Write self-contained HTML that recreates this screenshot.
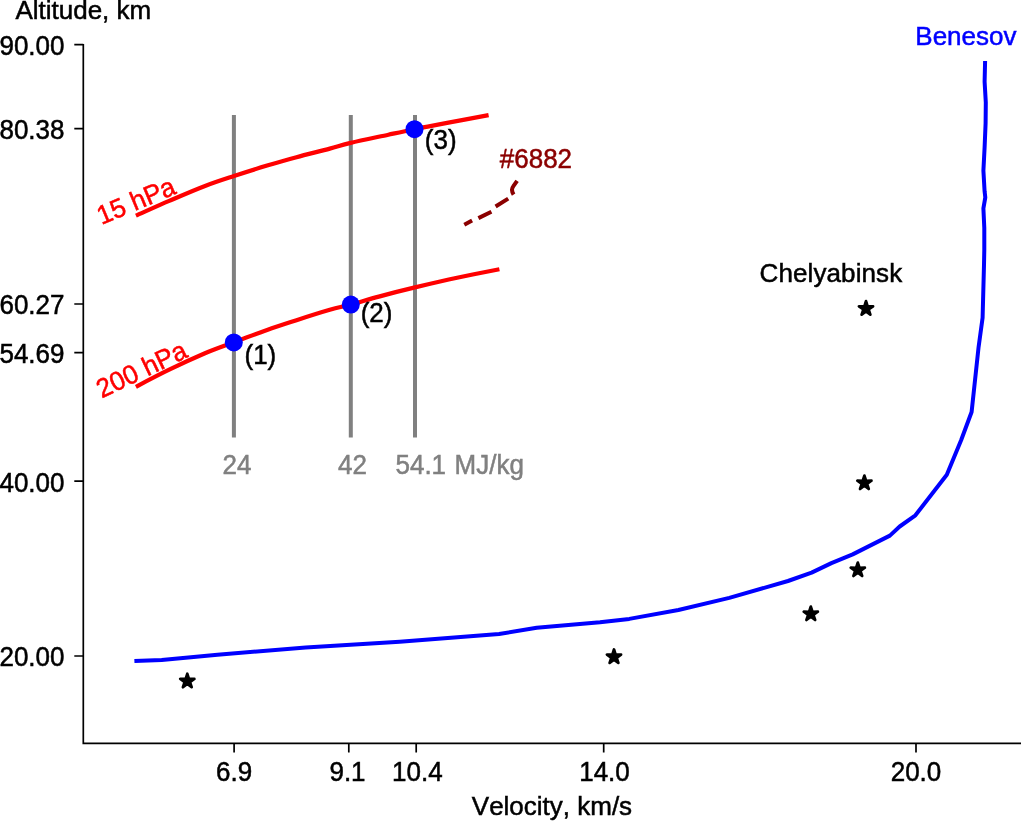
<!DOCTYPE html>
<html><head><meta charset="utf-8"><title>Altitude vs Velocity</title>
<style>
html,body{margin:0;padding:0;background:#fff;}
body{width:1021px;height:821px;overflow:hidden;}
svg{display:block;}
text{font-family:"Liberation Sans",Arial,Helvetica,sans-serif;font-size:26px;font-kerning:none;stroke-width:0.5px;}
</style></head><body>
<svg width="1021" height="821" viewBox="0 0 1021 821">
<rect width="1021" height="821" fill="#fff"/>
<!-- axes -->
<g stroke="#000" stroke-width="1.7" fill="none">
<path d="M83.3,44 V743.3 H1021"/>
<path d="M74.3,44.6 H83.3 M74.3,128.6 H83.3 M74.3,304 H83.3 M74.3,352.6 H83.3 M74.3,481.2 H83.3 M74.3,656 H83.3"/>
<path d="M234.1,743.3 V752.4 M348.8,743.3 V752.4 M416.2,743.3 V752.4 M603.7,743.3 V752.4 M916,743.3 V752.4"/>
</g>
<!-- gray lines -->
<g stroke="#808080" stroke-width="4" fill="none">
<path d="M233.9,115.1 V437.5 M350.8,115.1 V437.5 M415,115.1 V437.5"/>
</g>
<!-- red curves -->
<g stroke="#ff0000" stroke-width="4.2" fill="none">
<path d="M135.9,215.6 C141.4,213.2 157.8,205.8 169.2,200.9 C180.6,196.0 193.6,190.3 204.4,186.2 C215.2,182.0 223.6,179.4 234.0,176.0 C244.4,172.6 256.7,168.7 267.1,165.6 C277.5,162.5 286.1,160.0 296.5,157.2 C306.9,154.4 320.8,151.0 329.8,148.6 C338.8,146.2 340.9,145.2 350.7,142.9 C360.5,140.6 377.8,137.0 388.4,134.7 C399.0,132.4 404.4,131.2 414.2,129.2 C424.0,127.2 434.7,125.2 447.1,122.9 C459.5,120.6 481.7,116.4 488.6,115.1"/>
<path d="M135.9,386.8 C141.4,383.9 157.8,375.2 169.2,369.7 C180.6,364.1 193.6,358.1 204.4,353.5 C215.2,348.9 223.4,346.2 233.8,342.3 C244.2,338.4 256.7,333.7 267.1,330.0 C277.6,326.3 286.1,323.6 296.5,320.2 C306.9,316.8 320.8,312.4 329.8,309.8 C338.9,307.2 342.6,306.8 350.8,304.6 C359.0,302.4 368.1,299.5 378.8,296.6 C389.5,293.7 401.9,290.5 415.0,287.4 C428.1,284.3 443.0,280.8 457.1,277.8 C471.2,274.8 492.3,270.6 499.4,269.2"/>
</g>
<!-- dashed -->
<g stroke="#8b0000" stroke-width="4" fill="none" stroke-linejoin="round">
<path d="M464.3,224.8 L472.1,220.6 M478.4,218.1 L491.4,211.8 M495.6,206.5 L508.2,198.6 M513.6,194.6 Q510.6,189.6 513.2,186.4 L517.1,180.9"/>
</g>
<!-- blue curve -->
<path d="M985.1,61.0 L984.6,81.7 L985.8,102.4 L985.6,123.1 L984.6,147.4 L983.4,170.6 L984.6,191.3 L985.3,197.4 L983.4,208.3 L984.3,227.8 L984.3,249.8 L984.0,264.7 L982.6,317.7 L978.6,346.9 L971.6,412.0 L961.2,440.0 L946.8,474.7 L915.4,515.3 L899.7,526.5 L889.9,535.6 L852.7,554.4 L831.4,563.1 L811.6,572.6 L788.0,581.0 L729.3,597.9 L678.4,610.0 L629.3,618.9 L600.0,622.2 L536.7,627.7 L499.1,634.0 L399.7,641.7 L305.7,647.6 L217.5,654.7 L161.7,659.9 L134.4,661.1" stroke="#0000ff" stroke-width="4" fill="none" stroke-linejoin="round"/>
<!-- dots -->
<g fill="#0000ff">
<circle cx="233.8" cy="342.4" r="9"/>
<circle cx="350.8" cy="304.6" r="9"/>
<circle cx="414.5" cy="129.2" r="9"/>
</g>
<!-- stars -->
<g fill="#000" stroke="#000" stroke-width="2.8" stroke-linejoin="round">
<polygon points="866.00,301.20 867.62,306.38 873.04,306.31 868.62,309.45 870.35,314.59 866.00,311.35 861.65,314.59 863.38,309.45 858.96,306.31 864.38,306.38"/><polygon points="864.40,475.60 866.02,480.78 871.44,480.71 867.02,483.85 868.75,488.99 864.40,485.75 860.05,488.99 861.78,483.85 857.36,480.71 862.78,480.78"/><polygon points="857.80,562.60 859.42,567.78 864.84,567.71 860.42,570.85 862.15,575.99 857.80,572.75 853.45,575.99 855.18,570.85 850.76,567.71 856.18,567.78"/><polygon points="810.80,606.60 812.42,611.78 817.84,611.71 813.42,614.85 815.15,619.99 810.80,616.75 806.45,619.99 808.18,614.85 803.76,611.71 809.18,611.78"/><polygon points="614.00,649.50 615.62,654.68 621.04,654.61 616.62,657.75 618.35,662.89 614.00,659.65 609.65,662.89 611.38,657.75 606.96,654.61 612.38,654.68"/><polygon points="187.30,673.80 188.92,678.98 194.34,678.91 189.92,682.05 191.65,687.19 187.30,683.95 182.95,687.19 184.68,682.05 180.26,678.91 185.68,678.98"/>
</g>
<!-- text -->
<text transform="translate(15.4,18.9) scale(1,1.02)" fill="#000" stroke="#000">Altitude, km</text>
<text transform="translate(64.5,54.9) scale(1,1.03)" fill="#000" stroke="#000" text-anchor="end">90.00</text>
<text transform="translate(64.5,138.9) scale(1,1.03)" fill="#000" stroke="#000" text-anchor="end">80.38</text>
<text transform="translate(64.5,314.3) scale(1,1.03)" fill="#000" stroke="#000" text-anchor="end">60.27</text>
<text transform="translate(64.5,362.9) scale(1,1.03)" fill="#000" stroke="#000" text-anchor="end">54.69</text>
<text transform="translate(64.5,491.5) scale(1,1.03)" fill="#000" stroke="#000" text-anchor="end">40.00</text>
<text transform="translate(64.5,666.3) scale(1,1.03)" fill="#000" stroke="#000" text-anchor="end">20.00</text>
<text transform="translate(234.1,781.3) scale(1,1.03)" fill="#000" stroke="#000" text-anchor="middle">6.9</text>
<text transform="translate(347.5,781.3) scale(1,1.03)" fill="#000" stroke="#000" text-anchor="middle">9.1</text>
<text transform="translate(417.3,781.3) scale(1,1.03)" fill="#000" stroke="#000" text-anchor="middle">10.4</text>
<text transform="translate(604.5,781.3) scale(1,1.03)" fill="#000" stroke="#000" text-anchor="middle">14.0</text>
<text transform="translate(916,781.3) scale(1,1.03)" fill="#000" stroke="#000" text-anchor="middle">20.0</text>
<text transform="translate(471.8,815.2) scale(1,1.02)" fill="#000" stroke="#000">Velocity, km/s</text>
<text transform="translate(759.6,281.6) scale(1,1.02)" fill="#000" stroke="#000" letter-spacing="0.1">Chelyabinsk</text>
<text transform="translate(244.5,364.3) scale(1,1.03)" fill="#000" stroke="#000">(1)</text>
<text transform="translate(360.7,322.4) scale(1,1.03)" fill="#000" stroke="#000">(2)</text>
<text transform="translate(424.8,148.5) scale(1,1.03)" fill="#000" stroke="#000">(3)</text>
<text transform="translate(222.5,473.5) scale(1,1.03)" fill="#808080" stroke="#808080">24</text>
<text transform="translate(338,473.5) scale(1,1.03)" fill="#808080" stroke="#808080">42</text>
<text transform="translate(395.5,473.5) scale(1,1.03)" fill="#808080" stroke="#808080" word-spacing="1.3">54.1 MJ/kg</text>
<text transform="translate(915.3,45.3) scale(1,1.02)" fill="#0000ff" stroke="#0000ff">Benesov</text>
<text transform="translate(499.8,168.2) scale(1,1.03)" fill="#8b0000" stroke="#8b0000">#6882</text>
<text transform="translate(101.5,225) rotate(-22.8) scale(1,1.02)" fill="#ff0000" stroke="#ff0000">15 hPa</text>
<text transform="translate(101.8,398.4) rotate(-25.6) scale(1,1.02)" fill="#ff0000" stroke="#ff0000">200 hPa</text>
</svg>
</body></html>
